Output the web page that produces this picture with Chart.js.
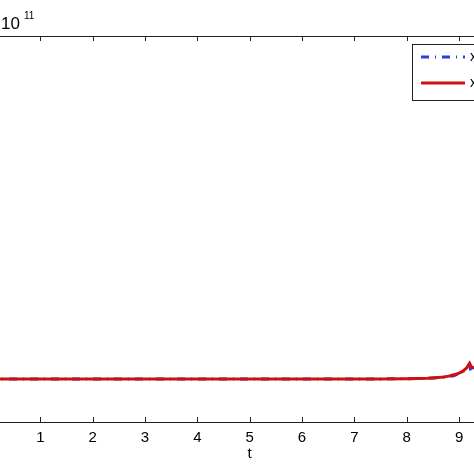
<!DOCTYPE html>
<html>
<head>
<meta charset="utf-8">
<script src="https://cdn.jsdelivr.net/npm/chart.js@4"></script>
<style>
  html, body { margin: 0; padding: 0; background: #fff; }
  #frame { position: relative; width: 474px; height: 474px; overflow: hidden; }
  #wrap { position: absolute; left: -40px; top: 0; width: 600px; height: 474px; }
</style>
</head>
<body>
<div id="frame"><div id="wrap"><canvas id="chart" width="600" height="474"></canvas></div></div>
<script>
  // values in units of 1e11
  const tValues = [0, 1, 2, 3, 4, 5, 6, 7, 7.5, 8, 8.2, 8.4, 8.6, 8.7, 8.8, 8.9, 9.0, 9.05, 9.1, 9.15, 9.2, 9.23, 9.26, 9.3, 9.35, 9.4];
  const x1Values = [0, 0, 0, 0, 0, 0, 0, 0, 0.005, 0.01, 0.012, 0.018, 0.035, 0.04, 0.06, 0.08, 0.13, 0.15, 0.2, 0.26, 0.33, 0.16, 0.13, 0.14, 0.14, 0.15];
  const x2Values = [0, 0, 0, 0, 0, 0, 0, 0, 0.005, 0.01, 0.015, 0.02, 0.04, 0.05, 0.07, 0.1, 0.14, 0.17, 0.21, 0.27, 0.37, 0.3, 0.26, 0.27, 0.27, 0.28];
  const xTicks = [0, 1, 2, 3, 4, 5, 6, 7, 8, 9, 10];
  const seriesLabels = ['x1', 'x2'];

  const font = 'Liberation Sans, Arial, sans-serif';

  function pts(values) {
    return tValues.map((t, i) => ({ x: t, y: values[i] }));
  }

  const matlabBox = {
    id: 'matlabBox',
    afterDraw(chart) {
      const ctx = chart.ctx;
      const a = chart.chartArea;
      const xs = chart.scales.x;
      ctx.save();
      ctx.strokeStyle = '#222';
      ctx.lineWidth = 1;
      ctx.strokeRect(Math.round(a.left) + 0.5, Math.round(a.top) + 0.5, Math.round(a.right - a.left), Math.round(a.bottom - a.top));
      ctx.beginPath();
      xTicks.forEach(v => {
        const px = Math.round(xs.getPixelForValue(v)) + 0.5;
        ctx.moveTo(px, a.top); ctx.lineTo(px, a.top + 5);
        ctx.moveTo(px, a.bottom); ctx.lineTo(px, a.bottom - 5);
      });
      ctx.stroke();

      // exponent label (x 10^11), the "x" falls outside the crop
      ctx.fillStyle = '#000';
      ctx.font = '17px ' + font;
      ctx.textBaseline = 'alphabetic';
      ctx.textAlign = 'right';
      ctx.fillText('\u00d7', 38, 29);
      ctx.textAlign = 'left';
      ctx.fillText('10', 41, 29);
      ctx.font = '10px ' + font;
      ctx.fillText('11', 64, 19);

      // legend
      const lx = 452, ly = 44, lw = 140, lh = 56;
      ctx.fillStyle = '#fff';
      ctx.fillRect(lx, ly, lw, lh);
      ctx.strokeStyle = '#222';
      ctx.strokeRect(lx + 0.5, ly + 0.5, lw, lh);
      chart.data.datasets.forEach((ds, i) => {
        const y = ly + 13 + i * 26;
        ctx.beginPath();
        ctx.strokeStyle = ds.borderColor;
        ctx.lineWidth = ds.borderWidth;
        ctx.setLineDash(ds.borderDash || []);
        ctx.moveTo(lx + 9, y); ctx.lineTo(lx + 53, y);
        ctx.stroke();
        ctx.setLineDash([]);
        ctx.fillStyle = '#000';
        ctx.font = '14px ' + font;
        ctx.textBaseline = 'middle';
        ctx.fillText(ds.label, lx + 58, y);
      });
      ctx.restore();
    }
  };

  new Chart(document.getElementById('chart'), {
    type: 'line',
    data: {
      datasets: [
        { label: seriesLabels[0], data: pts(x1Values), borderColor: '#2340e0', borderWidth: 3, borderDash: [8, 6, 1, 6], pointRadius: 0, fill: false, order: 1 },
        { label: seriesLabels[1], data: pts(x2Values), borderColor: '#d01010', borderWidth: 3, pointRadius: 0, fill: false, order: 0 }
      ]
    },
    options: {
      responsive: false,
      animation: false,
      devicePixelRatio: 1,
      layout: { padding: { left: 28, right: 48.6, top: 36, bottom: 0 } },
      plugins: { legend: { display: false }, tooltip: { enabled: false } },
      scales: {
        x: {
          type: 'linear', min: 0, max: 10,
          afterBuildTicks: s => { s.ticks = xTicks.map(v => ({ value: v })); },
          afterFit: s => { s.height = 52; },
          grid: { display: false, drawTicks: false },
          border: { display: false },
          ticks: { color: '#000', font: { family: font, size: 15 }, padding: 7 },
          title: { display: true, text: 't', color: '#000', font: { family: font, size: 15 }, padding: { top: 0, bottom: 11 } }
        },
        y: { display: false, min: -1, max: 8 }
      }
    },
    plugins: [matlabBox]
  });
</script>
</body>
</html>
